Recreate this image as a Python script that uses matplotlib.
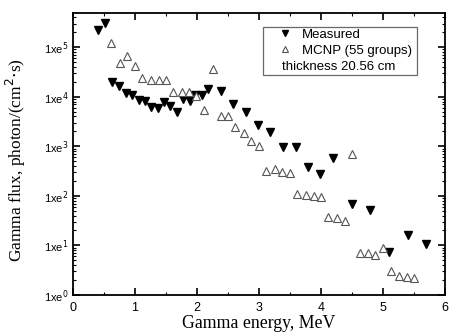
import matplotlib
matplotlib.use("Agg")
import matplotlib.pyplot as plt
from matplotlib.ticker import FixedLocator, LogLocator, NullFormatter, MultipleLocator
from matplotlib.lines import Line2D

meas_e = [0.41, 0.52, 0.63, 0.74, 0.85, 0.95, 1.06, 1.16, 1.26, 1.37, 1.47, 1.57, 1.67, 1.77, 1.88,
          1.97, 2.08, 2.18, 2.38, 2.58, 2.79, 2.99, 3.18, 3.39, 3.59, 3.79, 3.98, 4.19, 4.50, 4.79,
          5.10, 5.40, 5.70]
meas_f = [2.2e5, 3.1e5, 2.0e4, 1.65e4, 1.17e4, 1.08e4, 8.6e3, 8.4e3, 6.3e3, 5.9e3, 7.7e3, 6.6e3, 5.0e3,
          9.0e3, 8.2e3, 1.08e4, 1.1e4, 1.43e4, 1.32e4, 7.1e3, 5.0e3, 2.7e3, 1.9e3, 950, 950, 380, 272,
          590, 67, 51.5, 7.4, 16.2, 10.8]

mcnp_e = [0.62, 0.75, 0.87, 1.00, 1.12, 1.25, 1.38, 1.50, 1.62, 1.75, 1.87, 1.99, 2.12, 2.25, 2.38,
          2.50, 2.62, 2.75, 2.87, 3.00, 3.12, 3.25, 3.37, 3.50, 3.62, 3.75, 3.88, 4.00, 4.12, 4.25,
          4.38, 4.50, 4.63, 4.75, 4.87, 5.00, 5.12, 5.25, 5.38, 5.50]
mcnp_f = [1.24e5, 4.9e4, 6.5e4, 4.2e4, 2.4e4, 2.2e4, 2.2e4, 2.2e4, 1.24e4, 1.24e4, 1.24e4, 1.05e4,
          5.5e3, 3.6e4, 4.0e3, 4.0e3, 2.4e3, 1.85e3, 1.28e3, 1.03e3, 316, 342, 300, 292, 108, 105, 98,
          93, 38, 35, 31, 690, 7.0, 6.9, 6.4, 8.7, 3.1, 2.45, 2.27, 2.16]

ytick_vals = [1, 10, 100, 1e3, 1e4, 1e5]
ytick_labels = [r'1xe$^{0}$', r'1xe$^{1}$', r'1xe$^{2}$', r'1xe$^{3}$', r'1xe$^{4}$', r'1xe$^{5}$']
xtick_vals = [0, 1, 2, 3, 4, 5, 6]

fig = plt.figure(figsize=(4.74, 3.34), dpi=100)
ax = fig.add_axes([0.154, 0.117, 0.785, 0.844])

ax.plot(meas_e, meas_f, linestyle='none', marker='v', markersize=5.5,
        color='black', label='Measured')
ax.plot(mcnp_e, mcnp_f, linestyle='none', marker='^', markersize=5.5,
        markerfacecolor='white', markeredgecolor='#555555', markeredgewidth=0.8,
        label='MCNP (55 groups)')

ax.set_yscale('log')
ax.set_xlim(0, 6)
ax.set_ylim(1, 4.9e5)
ax.yaxis.set_major_locator(FixedLocator(ytick_vals))
ax.set_yticklabels(ytick_labels, family='Liberation Sans', fontsize=8)
ax.yaxis.set_minor_locator(LogLocator(base=10, subs=[2, 3, 4, 5, 6, 7, 8, 9], numticks=20))
ax.yaxis.set_minor_formatter(NullFormatter())
ax.set_xticks(xtick_vals)
ax.set_xticklabels([str(v) for v in xtick_vals], family='Liberation Sans', fontsize=9)
ax.xaxis.set_minor_locator(MultipleLocator(0.5))

ax.tick_params(which='both', direction='in', top=True, right=True, width=1.2)
ax.tick_params(which='major', length=5)
ax.tick_params(which='minor', length=2.5, width=0.8)
ax.tick_params(axis='x', which='major', pad=5)
for s in ax.spines.values():
    s.set_linewidth(1.3)

ax.set_xlabel('Gamma energy, MeV', family='Liberation Serif', fontsize=12.8, labelpad=1)
ax.set_ylabel(r'Gamma flux, photon/(cm$^{2}$$\cdot$s)', family='Liberation Serif', fontsize=12.5)
ax.yaxis.set_label_coords(-0.12, 0.479)

handles, labels = ax.get_legend_handles_labels()
handles.append(Line2D([], [], linestyle='none', marker=''))
labels.append('thickness 20.56 cm')
leg = ax.legend(handles, labels, loc='upper right', bbox_to_anchor=(0.925, 0.952),
                prop={'family': 'Liberation Sans', 'size': 9.5}, frameon=True, fancybox=False,
                edgecolor='#444444', handlelength=3.0, handletextpad=-0.2, borderpad=0.15,
                labelspacing=0.28, markerscale=0.85, borderaxespad=0)
leg.get_frame().set_linewidth(0.9)
leg.get_texts()[2].set_x(-20)

fig.savefig('out.png', dpi=100)
